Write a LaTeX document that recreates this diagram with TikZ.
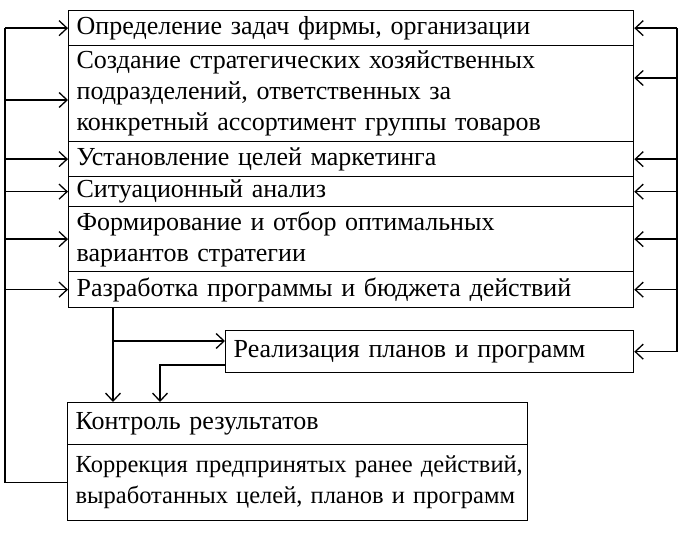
\documentclass[tikz,border=0pt]{standalone}
\usepackage{fontspec}
\setmainfont{Liberation Serif}
\usetikzlibrary{arrows.meta,calc}
\begin{document}
\begin{tikzpicture}[x=1pt,y=-1pt,
  row/.style={draw,line width=1.3pt,anchor=north west,minimum width=#1,text width=#1-16pt,inner xsep=8pt,inner ysep=0pt,align=left,font=\fontsize{26}{31}\selectfont},
  arr/.style={line width=1.3pt,-{Straight Barb[length=8pt,width=15pt,line width=1.3pt]}},
  ln/.style={line width=1.3pt}]
\useasboundingbox (0,0) rectangle (698,534);
\node[row=565pt,minimum height=35pt] (r1) at (68,10) {Определение задач фирмы, организации};
\node[row=565pt,minimum height=96pt] (r2) at (68,45) {Создание стратегических хозяйственных\\подразделений, ответственных за\\конкретный ассортимент группы товаров};
\node[row=565pt,minimum height=35pt] (r3) at (68,141) {Установление целей маркетинга};
\node[row=565pt,minimum height=30pt] (r4) at (68,176) {Ситуационный анализ};
\node[row=565pt,minimum height=65pt] (r5) at (68,206) {Формирование и отбор оптимальных\\вариантов стратегии};
\node[row=565pt,minimum height=36pt] (r6) at (68,271) {Разработка программы и бюджета действий};
\node[row=408pt,minimum height=42pt] (re) at (225,330) {Реализация планов и программ};
\node[row=460pt,minimum height=42pt] (k1) at (67,402) {Контроль результатов};
\node[row=460pt,minimum height=76pt,font=\fontsize{24.5}{31}\selectfont] (k2) at (67,444) {\hbox{Коррекция предпринятых ранее действий,}\\\hbox{выработанных целей, планов и программ}};
\coordinate (lb) at (5,0);
\coordinate (rb) at (677,0);
% left bus
\draw[ln] (k2.west) -| (lb |- r1.west);
\foreach \n in {r1,r3,r4,r5,r6} \draw[arr] (lb |- \n.west) -- (\n.west);
\draw[arr] (lb |- 0,100) -- (r2.west |- 0,100);
% right bus
\draw[ln] (rb |- re.east) -- (rb |- r1.east);
\foreach \n in {r1,r3,r4,r5,r6,re} \draw[arr] (rb |- \n.east) -- (\n.east);
\draw[arr] (rb |- 0,78) -- (r2.east |- 0,78);
% down flow
\coordinate (d) at (113,0);
\draw[arr] (d |- r6.south) -- (d |- k1.north);
\draw[arr] (d |- 0,341) -- (re.west |- 0,341);
\coordinate (e) at (160,0);
\draw[arr] (re.west |- 0,365) -| (e |- k1.north);
\end{tikzpicture}
\end{document}
